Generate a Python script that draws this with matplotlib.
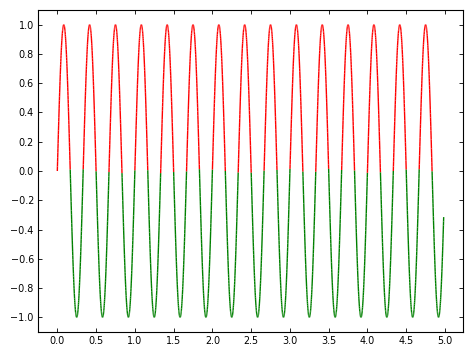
import numpy as np
import matplotlib
matplotlib.use("Agg")
import matplotlib.pyplot as plt
from matplotlib.collections import LineCollection

# Curve: a sine wave of 3 cycles per unit, amplitude 1,
# sampled from x = 0 to x ≈ 4.983 (ends at y ≈ -0.31)
x_start = 0.0
x_end = 4.983
frequency = 3.0
amplitude = 1.0
n_points = 3000

x_ticks = [0.0, 0.5, 1.0, 1.5, 2.0, 2.5, 3.0, 3.5, 4.0, 4.5, 5.0]
y_ticks = [-1.0, -0.8, -0.6, -0.4, -0.2, 0.0, 0.2, 0.4, 0.6, 0.8, 1.0]
above_color = "red"
below_color = "green"

x = np.linspace(x_start, x_end, n_points)
y = amplitude * np.sin(2 * np.pi * frequency * x)

fig = plt.figure(figsize=(4.74, 3.55), dpi=100)
ax = fig.add_axes([38 / 474, 1 - 332 / 355, (463 - 38) / 474, (332 - 10) / 355])

pts = np.column_stack([x, y]).reshape(-1, 1, 2)
segs = np.concatenate([pts[:-1], pts[1:]], axis=1)
mid = (y[:-1] + y[1:]) / 2
colors = [above_color if m >= 0 else below_color for m in mid]
lc = LineCollection(segs, colors=colors, linewidths=1.0)
ax.add_collection(lc)

ax.set_xlim(x_start - 0.05 * (x_end - x_start), x_end + 0.05 * (x_end - x_start))
ax.set_ylim(-1.1, 1.1)
ax.set_xticks(x_ticks)
ax.set_yticks(y_ticks)
ax.set_xticklabels([f"{t:.1f}" for t in x_ticks])
ax.set_yticklabels([f"{t:.1f}".replace("-", "\u2212") for t in y_ticks])
ax.tick_params(direction="in", top=True, right=True, length=3, width=0.6,
               labelsize=6.9, pad=3, colors="black")
for s in ax.spines.values():
    s.set_linewidth(0.8)
    s.set_color("black")

fig.savefig("out.png", dpi=100)
